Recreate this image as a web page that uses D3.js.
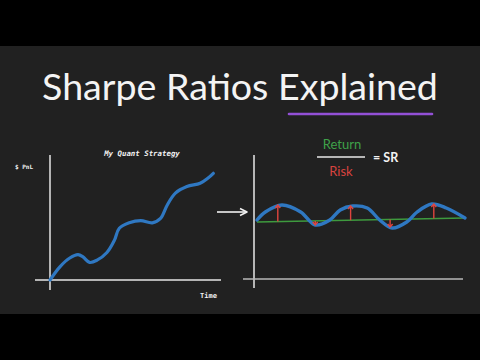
<!DOCTYPE html>
<html><head><meta charset="utf-8">
<script src="https://cdn.jsdelivr.net/npm/d3@7"></script>
<style>html,body{margin:0;padding:0;background:#000;}svg{display:block;}</style>
</head><body>
<svg id="c" width="480" height="360"></svg>
<script>
// ---- data ----
const titleText = "Sharpe Ratios Explained";
const leftTitle = "My Quant Strategy";
const leftYLabel = "$ PnL";
const leftXLabel = "Time";
// left chart: cumulative PnL over time
const pnlTime  = [0, 6, 12, 17, 20, 24, 28.5, 34.5, 39, 42, 48, 55, 62, 67, 71, 76, 83, 91, 96, 99];
const pnlValue = [0, 12, 20, 23, 21, 16, 18, 25, 36, 47, 52, 54, 52, 56, 68, 79, 85, 88, 93, 97];
// right chart: oscillating returns vs mean
const retTime  = [0, 4, 12, 21, 28, 35, 40, 46, 53, 59, 65, 72, 77, 84, 91, 100];
const retValue = [0, 8, 15, 8, -5, 0, 10, 14, 12, 0, -8, -2, 8, 16, 12, 2];
const meanTime  = [0, 100];
const meanValue = [-2, 2];
const devTime  = [10, 28, 45, 64, 85];
const devValue = [15, -5, 14, -7, 16];
const fracTop = "Return", fracBottom = "Risk", fracEq = "= SR";

const svg = d3.select("#c");
svg.append("rect").attr("x",0).attr("y",0).attr("width",480).attr("height",360).attr("fill","#000");
svg.append("rect").attr("x",0).attr("y",46).attr("width",480).attr("height",268).attr("fill","#212121");

// title
const title = svg.append("text").text(titleText)
  .attr("x",240).attr("y",100).attr("text-anchor","middle")
  .attr("fill","#f4f4f4").attr("font-family","Lato, 'Open Sans', sans-serif")
  .attr("font-size",36);
const tw = title.node().getComputedTextLength();
title.attr("font-size", 36*396/tw);
svg.append("line").attr("x1",289).attr("x2",432).attr("y1",114).attr("y2",114)
  .attr("stroke","#9350d6").attr("stroke-width",2.6).attr("stroke-linecap","round");

const hand = "'DejaVu Sans Mono', monospace";

// ---- left chart ----
const xL = d3.scaleLinear().domain([0,100]).range([50,215]);
const yL = d3.scaleLinear().domain([0,100]).range([280,170]);
const gL = svg.append("g");
gL.append("line").attr("x1",50).attr("x2",50).attr("y1",155).attr("y2",290)
  .attr("stroke","#e6e6e6").attr("stroke-width",1.5);
gL.append("line").attr("x1",35).attr("x2",221).attr("y1",280).attr("y2",280)
  .attr("stroke","#e6e6e6").attr("stroke-width",1.5);
const pnl = pnlTime.map((t,i)=>({t, v:pnlValue[i]}));
gL.append("path").datum(pnl)
  .attr("d", d3.line().x(d=>xL(d.t)).y(d=>yL(d.v)).curve(d3.curveCatmullRom))
  .attr("fill","none").attr("stroke","#2f78c2").attr("stroke-width",3.2).attr("stroke-linecap","round");
gL.append("text").text(leftTitle).attr("x",142).attr("y",156).attr("text-anchor","middle")
  .attr("fill","#f2f2f2").attr("font-family",hand).attr("font-weight","bold").attr("font-size",7.4).attr("font-style","italic");
gL.append("text").text(leftYLabel).attr("x",15).attr("y",169)
  .attr("fill","#f2f2f2").attr("font-family",hand).attr("font-weight","bold").attr("font-size",6);
gL.append("text").text(leftXLabel).attr("x",200).attr("y",298)
  .attr("fill","#f2f2f2").attr("font-family",hand).attr("font-weight","bold").attr("font-size",7);

// arrow between charts
svg.append("line").attr("x1",217).attr("x2",246).attr("y1",212).attr("y2",212)
  .attr("stroke","#f0f0f0").attr("stroke-width",1.6);
svg.append("path").attr("d","M240,208.5 L247,212 L240,215.5")
  .attr("fill","none").attr("stroke","#f0f0f0").attr("stroke-width",1.6).attr("stroke-linejoin","round");

// ---- right chart ----
const xR = d3.scaleLinear().domain([0,100]).range([257,465]);
const yR = d3.scaleLinear().domain([-20,20]).range([240,200]);
const gR = svg.append("g");
gR.append("line").attr("x1",254).attr("x2",254).attr("y1",155).attr("y2",288)
  .attr("stroke","#dcdcdc").attr("stroke-width",1.6);
gR.append("line").attr("x1",243).attr("x2",463).attr("y1",279).attr("y2",279)
  .attr("stroke","#b8b8b8").attr("stroke-width",1.6);

const meanAt = t => meanValue[0] + (meanValue[1]-meanValue[0])*(t-meanTime[0])/(meanTime[1]-meanTime[0]);
gR.append("path").datum(meanTime.map((t,i)=>({t, v:meanValue[i]})))
  .attr("d", d3.line().x(d=>xR(d.t)).y(d=>yR(d.v)))
  .attr("stroke","#3e9a3e").attr("stroke-width",1.5).attr("fill","none");
const ret = retTime.map((t,i)=>({t, v:retValue[i]}));
gR.append("path").datum(ret)
  .attr("d", d3.line().x(d=>xR(d.t)).y(d=>yR(d.v)).curve(d3.curveCatmullRom))
  .attr("fill","none").attr("stroke","#2f78c2").attr("stroke-width",3.4).attr("stroke-linecap","round");

const devs = devTime.map((t,i)=>({t, v:devValue[i], m:meanAt(t)}));
const red = "#e0443e";
gR.selectAll(".dev").data(devs).enter().append("line")
  .attr("x1",d=>xR(d.t)).attr("x2",d=>xR(d.t))
  .attr("y1",d=>yR(d.m)).attr("y2",d=>yR(d.v))
  .attr("stroke",red).attr("stroke-width",1.4);
gR.selectAll(".head").data(devs).enter().append("path")
  .attr("d",d=>{
    const x=xR(d.t), y=yR(d.v), s = d.v>d.m ? 1 : -1;
    return `M${x-2.5},${y+3*s} L${x},${y} L${x+2.5},${y+3*s}`;
  })
  .attr("fill","none").attr("stroke",red).attr("stroke-width",1.4);

// fraction
const fracFont = "Lato, 'Open Sans', sans-serif";
svg.append("text").text(fracTop).attr("x",342).attr("y",149).attr("text-anchor","middle")
  .attr("fill","#3fa14a").attr("font-family",fracFont).attr("font-size",13);
svg.append("line").attr("x1",317).attr("x2",365).attr("y1",157).attr("y2",157)
  .attr("stroke","#e8e8e8").attr("stroke-width",1.3);
svg.append("text").text(fracBottom).attr("x",341).attr("y",176).attr("text-anchor","middle")
  .attr("fill","#d8433f").attr("font-family",fracFont).attr("font-size",13);
svg.append("text").text(fracEq).attr("x",373).attr("y",162)
  .attr("fill","#f2f2f2").attr("font-family",fracFont).attr("font-size",12.5).attr("font-weight","bold");
</script>
</body></html>
